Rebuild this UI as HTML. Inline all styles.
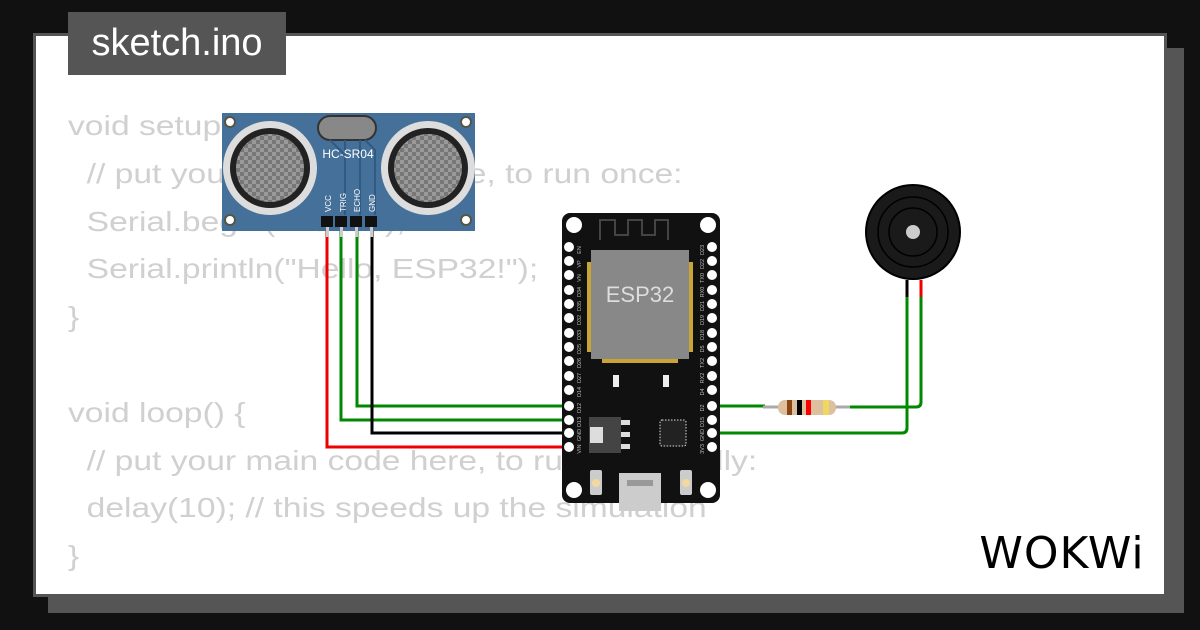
<!DOCTYPE html>
<html><head><meta charset="utf-8"><style>
html,body{margin:0;padding:0;background:#111;}
body{width:1200px;height:630px;position:relative;overflow:hidden;font-family:"Liberation Sans",sans-serif;}
.shadow{position:absolute;left:48px;top:48px;width:1136px;height:565px;background:#555;}
.panel{position:absolute;left:33px;top:33px;width:1128px;height:558px;background:#fff;border:3px solid #555;}
.title{position:absolute;left:68px;top:12px;width:218px;height:63px;background:#555;color:#fff;font-size:38px;line-height:63px;text-align:center;}
.code{position:absolute;left:68px;top:102px;color:#d0d0d0;font-size:28px;line-height:47.8px;white-space:pre;transform:scaleX(1.2);transform-origin:0 0;}
svg{position:absolute;left:0;top:0;}
</style></head><body>
<div class="shadow"></div>
<div class="panel"></div>
<div class="title">sketch.ino</div>
<div class="code">void setup() {
  // put your setup code here, to run once:
  Serial.begin(115200);
  Serial.println("Hello, ESP32!");
}

void loop() {
  // put your main code here, to run repeatedly:
  delay(10); // this speeds up the simulation
}</div>
<svg width="1200" height="630" viewBox="0 0 1200 630">
<defs>
<pattern id="chk" width="8" height="8" patternUnits="userSpaceOnUse"><rect width="8" height="8" fill="#777"/><rect width="4" height="4" fill="#999"/><rect x="4" y="4" width="4" height="4" fill="#999"/></pattern>
</defs>
<g fill="none" stroke-width="3">
<path d="M327 230 V447 H569" stroke="#e00"/>
<path d="M341 230 V420 H569" stroke="#080"/>
<path d="M357 230 V406 H569" stroke="#080"/>
<path d="M372 230 V433 H569" stroke="#000"/>
<path d="M712 406 H765" stroke="#080"/>
<path d="M850 407 H916 q5 0 5 -5 V297" stroke="#080"/>
<path d="M712 433 H902 q5 0 5 -5 V297" stroke="#080"/>
<path d="M907 280 V297" stroke="#000"/>
<path d="M921 280 V297" stroke="#e00"/>
</g>
<rect x="222" y="113" width="253" height="118" fill="#44709a"/>
<g fill="#fff" stroke="#554" stroke-width="2"><circle cx="230" cy="122" r="5"/><circle cx="466" cy="122" r="5"/><circle cx="230" cy="220" r="5"/><circle cx="466" cy="220" r="5"/></g>
<rect x="318" y="116" width="58" height="24" rx="12" fill="#888" stroke="#333" stroke-width="2"/>
<g fill="none" stroke="#2f5a82" stroke-width="2"><path d="M330 140 L345 155 V215"/><path d="M345 140 V215"/><path d="M360 140 V215"/><path d="M365 140 L375 150 V215"/></g>
<circle cx="270" cy="168" r="47" fill="#ddd"/><circle cx="270" cy="168" r="40" fill="#222"/><circle cx="270" cy="168" r="34" fill="url(#chk)"/>
<circle cx="428" cy="168" r="47" fill="#ddd"/><circle cx="428" cy="168" r="40" fill="#222"/><circle cx="428" cy="168" r="34" fill="url(#chk)"/>
<text x="348" y="158" font-size="12" fill="#fff" text-anchor="middle">HC-SR04</text>
<g font-size="8" fill="#fff"><text transform="translate(331,212) rotate(-90)">VCC</text><text transform="translate(346,212) rotate(-90)">TRIG</text><text transform="translate(360,212) rotate(-90)">ECHO</text><text transform="translate(375,212) rotate(-90)">GND</text></g>
<g fill="#111"><rect x="321" y="216" width="12" height="11"/><rect x="335" y="216" width="12" height="11"/><rect x="350" y="216" width="12" height="11"/><rect x="365" y="216" width="12" height="11"/></g>
<g fill="#ccc"><rect x="326" y="227" width="3" height="10"/><rect x="340" y="227" width="3" height="10"/><rect x="355" y="227" width="3" height="10"/><rect x="370" y="227" width="3" height="10"/></g>
<rect x="562" y="213" width="158" height="290" rx="8" fill="#111"/>
<path d="M600 240 V220 H615 V235 H628 V220 H642 V235 H655 V220 H668 V240" fill="none" stroke="#444" stroke-width="2"/>
<g fill="#fff"><circle cx="574" cy="225" r="8"/><circle cx="708" cy="225" r="8"/><circle cx="574" cy="490" r="8"/><circle cx="708" cy="490" r="8"/></g>
<g fill="#c9a536"><rect x="587" y="262" width="5" height="90"/><rect x="688" y="262" width="5" height="90"/><rect x="602" y="358" width="76" height="5"/></g>
<rect x="591" y="250" width="98" height="109" fill="#888"/>
<text x="640" y="302" font-size="22" fill="#ddd" text-anchor="middle">ESP32</text>
<g fill="#eee"><rect x="613" y="375" width="6" height="12"/><rect x="663" y="375" width="6" height="12"/></g>
<g fill="#fff">
<circle cx="569" cy="247" r="5"/><circle cx="569" cy="261" r="5"/><circle cx="569" cy="275" r="5"/><circle cx="569" cy="290" r="5"/><circle cx="569" cy="304" r="5"/><circle cx="569" cy="318" r="5"/><circle cx="569" cy="333" r="5"/><circle cx="569" cy="347" r="5"/><circle cx="569" cy="361" r="5"/><circle cx="569" cy="376" r="5"/><circle cx="569" cy="390" r="5"/><circle cx="569" cy="406" r="5"/><circle cx="569" cy="420" r="5"/><circle cx="569" cy="433" r="5"/><circle cx="569" cy="447" r="5"/>
<circle cx="712" cy="247" r="5"/><circle cx="712" cy="261" r="5"/><circle cx="712" cy="275" r="5"/><circle cx="712" cy="290" r="5"/><circle cx="712" cy="304" r="5"/><circle cx="712" cy="318" r="5"/><circle cx="712" cy="333" r="5"/><circle cx="712" cy="347" r="5"/><circle cx="712" cy="361" r="5"/><circle cx="712" cy="376" r="5"/><circle cx="712" cy="390" r="5"/><circle cx="712" cy="406" r="5"/><circle cx="712" cy="420" r="5"/><circle cx="712" cy="433" r="5"/><circle cx="712" cy="447" r="5"/>
</g>
<g font-size="5.5" fill="#bbb">
<text transform="translate(581,250) rotate(-90)" text-anchor="middle">EN</text>
<text transform="translate(581,264) rotate(-90)" text-anchor="middle">VP</text>
<text transform="translate(581,278) rotate(-90)" text-anchor="middle">VN</text>
<text transform="translate(581,292) rotate(-90)" text-anchor="middle">D34</text>
<text transform="translate(581,306) rotate(-90)" text-anchor="middle">D35</text>
<text transform="translate(581,320) rotate(-90)" text-anchor="middle">D32</text>
<text transform="translate(581,335) rotate(-90)" text-anchor="middle">D33</text>
<text transform="translate(581,349) rotate(-90)" text-anchor="middle">D25</text>
<text transform="translate(581,363) rotate(-90)" text-anchor="middle">D26</text>
<text transform="translate(581,378) rotate(-90)" text-anchor="middle">D27</text>
<text transform="translate(581,392) rotate(-90)" text-anchor="middle">D14</text>
<text transform="translate(581,408) rotate(-90)" text-anchor="middle">D12</text>
<text transform="translate(581,422) rotate(-90)" text-anchor="middle">D13</text>
<text transform="translate(581,435) rotate(-90)" text-anchor="middle">GND</text>
<text transform="translate(581,449) rotate(-90)" text-anchor="middle">VIN</text>
<text transform="translate(704,250) rotate(-90)" text-anchor="middle">D23</text>
<text transform="translate(704,264) rotate(-90)" text-anchor="middle">D22</text>
<text transform="translate(704,278) rotate(-90)" text-anchor="middle">TX0</text>
<text transform="translate(704,292) rotate(-90)" text-anchor="middle">RX0</text>
<text transform="translate(704,306) rotate(-90)" text-anchor="middle">D21</text>
<text transform="translate(704,320) rotate(-90)" text-anchor="middle">D19</text>
<text transform="translate(704,335) rotate(-90)" text-anchor="middle">D18</text>
<text transform="translate(704,349) rotate(-90)" text-anchor="middle">D5</text>
<text transform="translate(704,363) rotate(-90)" text-anchor="middle">TX2</text>
<text transform="translate(704,378) rotate(-90)" text-anchor="middle">RX2</text>
<text transform="translate(704,392) rotate(-90)" text-anchor="middle">D4</text>
<text transform="translate(704,408) rotate(-90)" text-anchor="middle">D2</text>
<text transform="translate(704,422) rotate(-90)" text-anchor="middle">D15</text>
<text transform="translate(704,435) rotate(-90)" text-anchor="middle">GND</text>
<text transform="translate(704,449) rotate(-90)" text-anchor="middle">3V3</text>
</g>
<rect x="589" y="417" width="32" height="36" fill="#444"/><rect x="590" y="427" width="13" height="16" fill="#ddd"/>
<g fill="#ddd"><rect x="621" y="420" width="9" height="5"/><rect x="621" y="432" width="9" height="5"/><rect x="621" y="444" width="9" height="5"/></g>
<rect x="660" y="420" width="26" height="26" rx="2" fill="#222" stroke="#ddd" stroke-width="1" stroke-dasharray="1.5 1.5"/>
<rect x="590" y="470" width="12" height="25" rx="2" fill="#ccc"/><circle cx="596" cy="483" r="4" fill="#f3d9a0"/>
<rect x="680" y="470" width="12" height="25" rx="2" fill="#ccc"/><circle cx="686" cy="483" r="4" fill="#f3d9a0"/>
<rect x="619" y="473" width="42" height="38" fill="#ccc"/><rect x="627" y="480" width="26" height="6" fill="#999"/>
<path d="M763 407 H780 M835 407 H850" stroke="#aaa" stroke-width="3"/>
<rect x="778" y="400" width="58" height="15" rx="7" fill="#dcc0a0"/>
<rect x="787" y="400" width="5" height="15" fill="#8b4513"/><rect x="797" y="400" width="5" height="15" fill="#000"/><rect x="806" y="400" width="5" height="15" fill="#f00"/><rect x="823" y="400" width="6" height="15" fill="#f0d860"/>
<circle cx="913" cy="232" r="48" fill="#000"/><circle cx="913" cy="232" r="46" fill="#1a1a1a"/>
<circle cx="913" cy="232" r="35" fill="none" stroke="#000" stroke-width="1.5"/><circle cx="913" cy="232" r="24" fill="none" stroke="#000" stroke-width="1.5"/>
<circle cx="913" cy="232" r="7" fill="#ccc"/>
<text x="1062" y="568" font-size="44" fill="#000" text-anchor="middle" font-family="DejaVu Sans, sans-serif" letter-spacing="1">WOKWi</text>
</svg>
</body></html>
